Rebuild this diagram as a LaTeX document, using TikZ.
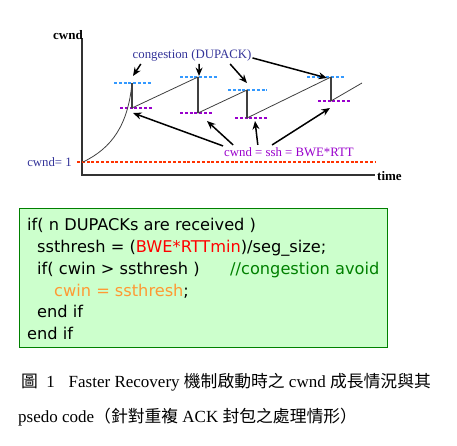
\documentclass[tikz,border=0pt]{standalone}
\usepackage{fontspec}
\setmainfont{Liberation Serif}
\newfontfamily\codefont{DejaVu Sans}
\newfontfamily\cjk{Noto Sans CJK TC}
\usetikzlibrary{arrows.meta,positioning,calc}
\definecolor{sshcol}{HTML}{9900CC}
\definecolor{peakcol}{HTML}{3399FF}
\definecolor{navy}{HTML}{333399}
\definecolor{boxfill}{HTML}{CCFFCC}
\definecolor{boxline}{HTML}{008000}
\definecolor{orng}{HTML}{FF9933}
\definecolor{redline}{HTML}{FF3300}
\newcommand\zh[1]{{\cjk\fontsize{16.8}{18}\selectfont #1}}

\begin{document}
\begin{tikzpicture}[x=1pt,y=-1pt,
  peakline/.style={peakcol,line width=1.3pt,dash pattern=on 3pt off 1.8pt},
  sshline/.style={sshcol,line width=1.3pt,dash pattern=on 3pt off 1.8pt},
  pointer/.style={-{Stealth[length=8.5pt,width=7pt]},line width=1.5pt},
  lbl/.style={font=\fontsize{12.8}{14}\selectfont,inner sep=0pt},
  codeline/.style={anchor=base west,inner sep=0pt,font=\codefont\fontsize{16.2}{18}\selectfont},
  capline/.style={anchor=base west,inner sep=0pt,font=\fontsize{17}{20}\selectfont}]
 \useasboundingbox (0,0) rectangle (457,445);
 % axes
 \draw[line width=1.5pt,black!80] (82,38)--(82,175)--(375,175);
 \node[lbl,font=\bfseries\fontsize{13}{14}\selectfont,anchor=base east] (ylab) at (83,39) {cwnd};
 \node[lbl,font=\bfseries\fontsize{13}{14}\selectfont,anchor=base west] (xlab) at (377,180) {time};
 \node[lbl,navy,anchor=base east] (one) at (72,166) {cwnd= 1};
 \draw[redline,line width=1.3pt,dash pattern=on 3pt off 1.8pt] (77,162)--(375,162);
 % thresholds
 \foreach \a/\b/\y in {114/152/83,180/218/77,228/267/90,307/345/77}
   \draw[peakline] (\a,\y)--(\b,\y);
 \foreach \a/\b/\y in {120/152/108,180/212/113,235/267/118,318/350/101}
   \draw[sshline] (\a,\y)--(\b,\y);
 % cwnd
 \draw[black!75,line width=0.8pt] (83,162) .. controls (112,148) and (128,125) .. (132,83)
   --(132,108)--(198,77)--(198,113)--(247,90)--(247,118)--(331,77)--(331,101)--(362,83);
 \foreach \x/\a/\b in {132/83/108,198/77/113,247/90/118,331/77/101}
   \draw[black!75,line width=1.4pt] (\x,\a)--(\x,\b);
 % labels and arrows
 \node[lbl,navy,anchor=base] (cong) at (192,58) {congestion (DUPACK)};
 \node[lbl,sshcol,anchor=base] (eq) at (289,156) {cwnd = ssh = BWE*RTT};
 \coordinate (t1) at (133,76);
 \coordinate (t2) at (199,76);
 \coordinate (t3) at (247,83);
 \coordinate (t4) at (327,78);
 \coordinate (s1) at (133,113);
 \coordinate (s2) at (207,121);
 \coordinate (s3) at (255,121);
 \coordinate (s4) at (330,108);
 \draw[pointer] ($(cong.south west)!0.07!(cong.south east)+(0,3)$) -- (t1);
 \draw[pointer] ($(cong.south west)!0.56!(cong.south east)+(0,3)$) -- (t2);
 \draw[pointer] ($(cong.south west)!0.82!(cong.south east)+(0,3)$) -- (t3);
 \draw[pointer] ($(cong.east)+(1,3)$) -- (t4);
 \draw[pointer] ($(eq.north west)+(-1,-1)$) -- (s1);
 \draw[pointer] ($(eq.north west)!0.07!(eq.north east)+(0,-2)$) -- (s2);
 \draw[pointer] ($(eq.north west)!0.26!(eq.north east)+(0,-2)$) -- (s3);
 \draw[pointer] ($(eq.north west)!0.37!(eq.north east)+(0,-2)$) -- (s4);
 % pseudo code
 \draw[fill=boxfill,draw=boxline,line width=1pt] (19,208) rectangle (387,347);
 \node[codeline] (c1) at (27,230) {if( n DUPACKs are received )};
 \node[codeline] (c2) at (37,252) {ssthresh = (\textcolor{red}{BWE*RTTmin})/seg\_size;};
 \node[codeline] (c3) at (37,274) {if( cwin > ssthresh )};
 \node[codeline,boxline] (c3b) at (230,274) {//congestion avoid};
 \node[codeline] (c4) at (54,296) {\textcolor{orng}{cwin = ssthresh};};
 \node[codeline] (c5) at (37,317) {end if};
 \node[codeline] (c6) at (27,339) {end if};
 % caption
 \node[capline] (cap1) at (21,387) {\zh{圖}\hspace{4pt} 1\hspace{14pt}Faster Recovery \zh{機制啟動時之} cwnd \zh{成長情況與其}};
 \node[capline] (cap2) at (18,422) {psedo code\zh{（針對重複} ACK \zh{封包之處理情形）}};
\end{tikzpicture}
\end{document}
